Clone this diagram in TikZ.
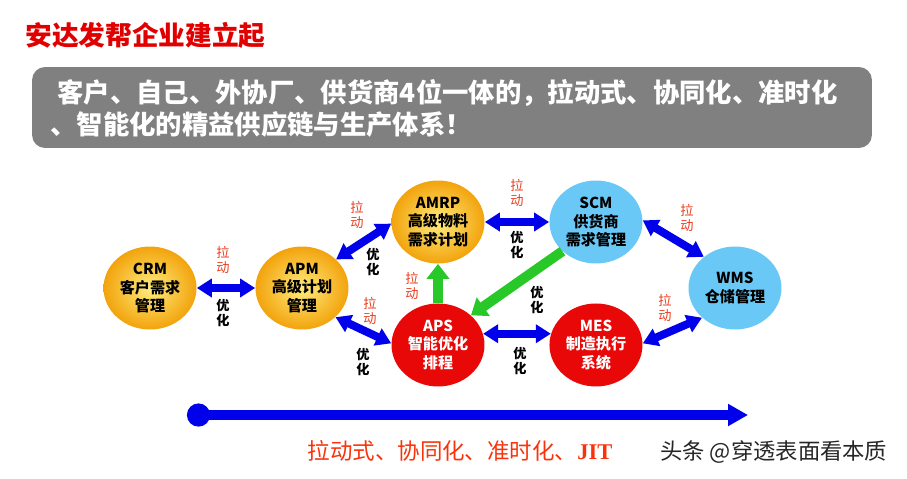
\documentclass[tikz,border=0pt]{standalone}
\usepackage{fontspec}
\setmainfont{Noto Sans CJK SC}
\newfontfamily\jitfont{Liberation Serif}
\usetikzlibrary{shapes,arrows.meta,positioning}
\definecolor{titlered}{RGB}{225, 0, 0}
\definecolor{boxgray}{RGB}{128, 128, 128}
\definecolor{ballorange}{RGB}{242, 163, 12}
\definecolor{ballyellow}{RGB}{255, 236, 125}
\definecolor{skyblue}{RGB}{105, 200, 245}
\definecolor{ballred}{RGB}{232, 8, 8}
\definecolor{flowblue}{RGB}{0, 0, 235}
\definecolor{flowgreen}{RGB}{40, 200, 40}
\definecolor{pullred}{RGB}{235, 60, 30}
\definecolor{jitred}{RGB}{250, 50, 10}

\begin{document}
\begin{tikzpicture}[x=0.02cm, y=-0.02cm,
    node distance=3.04cm,
    every node/.style={align=center},
    ball/.style={ellipse, minimum width=1.86cm, minimum height=1.66cm, inner sep=0pt, font=\bfseries\fontsize{8.6pt}{10.6pt}\selectfont},
    orangeball/.style={ball, inner color=ballyellow, outer color=ballorange},
    blueball/.style={ball, fill=skyblue},
    redball/.style={ball, fill=ballred, text=white},
    pull/.style={text=pullred, inner sep=0pt, font=\fontsize{7.5pt}{9pt}\selectfont},
    optim/.style={text=black, inner sep=0pt, font=\bfseries\fontsize{7.5pt}{9pt}\selectfont},
    link/.style={flowblue, line width=0.16cm, {Triangle[length=0.3cm,width=0.36cm]}-{Triangle[length=0.3cm,width=0.36cm]}},
    feed/.style={flowgreen, line width=0.2cm, -{Triangle[length=0.3cm,width=0.44cm]}},
    timeline/.style={flowblue, line width=0.2cm, {Circle[length=0.46cm]}-{Triangle[length=0.4cm,width=0.42cm]}},
    banner text/.style={anchor=west, inner sep=0pt, text=white, font=\bfseries\fontsize{15pt}{17pt}\selectfont}
]
\useasboundingbox (0,0) rectangle (907,478);

% Heading and banner
\node[anchor=west, inner sep=0pt, text=titlered, font=\bfseries\fontsize{15.2pt}{17pt}\selectfont] (title) at (25,35) {安达发帮企业建立起};
\node[fill=boxgray, rounded corners=0.26cm, minimum width=16.8cm, minimum height=1.62cm] (banner) at (452,107.5) {};
\node[banner text] (slogan1) at (57,93) {客户、自己、外协厂、供货商4位一体的，拉动式、协同化、准时化};
\node[banner text] (slogan2) at (50,124) {、智能化的精益供应链与生产体系！};

% Systems
\node[orangeball] (crm) at (150,288) {CRM\\客户需求\\管理};
\node[orangeball, right of=crm] (apm) {APM\\高级计划\\管理};
\node[orangeball] (amrp) at (438,222) {AMRP\\高级物料\\需求计划};
\node[redball, below of=amrp, node distance=2.46cm] (aps) {APS\\智能优化\\排程};
\node[blueball, right of=amrp, node distance=3.16cm] (scm) {SCM\\供货商\\需求管理};
\node[redball, right of=aps, node distance=3.16cm] (mes) {MES\\制造执行\\系统};
\node[blueball] (wms) at (735,288) {WMS\\仓储管理};

% Pull / optimise flows
\draw[link] (crm) -- (apm);
\draw[link] (apm.40) -- (amrp.182);
\draw[link] (apm.-41) -- (aps.178);
\draw[link] (amrp) -- (scm);
\draw[link] (scm.2) -- (wms.135);
\draw[link] (aps.14) -- (mes.166);
\draw[link] (mes.2) -- (wms.-138);
\draw[feed] (aps) -- (amrp);
\draw[feed] (scm.-139) -- (aps.42);

% Flow labels
\node[pull] (pull1) at (223,260) {拉\\动};
\node[optim] (opt1) at (223,313) {优\\化};
\node[pull] (pull2) at (357,215) {拉\\动};
\node[optim] (opt2) at (373,262) {优\\化};
\node[pull] (pull3) at (370,311) {拉\\动};
\node[optim] (opt3) at (363,362) {优\\化};
\node[pull] (pull4) at (412,286) {拉\\动};
\node[pull] (pull5) at (517,193) {拉\\动};
\node[optim] (opt5) at (517,245) {优\\化};
\node[optim] (opt6) at (537,300) {优\\化};
\node[pull] (pull7) at (687,218) {拉\\动};
\node[optim] (opt8) at (520,361) {优\\化};
\node[pull] (pull9) at (665,308) {拉\\动};

% Time line
\coordinate (tlstart) at (187,415);
\coordinate (tlend) at (748,415);
\draw[timeline] (tlstart) -- (tlend);
\node[text=jitred, font=\fontsize{12.8pt}{14pt}\selectfont] (slogan3) at (460,451) {拉动式、协同化、准时化、{\jitfont\bfseries JIT}};
\node[anchor=west, inner sep=0pt, text=black!85, font=\fontsize{12.7pt}{14pt}\selectfont] (mark) at (660,452) {头条 @穿透表面看本质};

\end{tikzpicture}
\end{document}
